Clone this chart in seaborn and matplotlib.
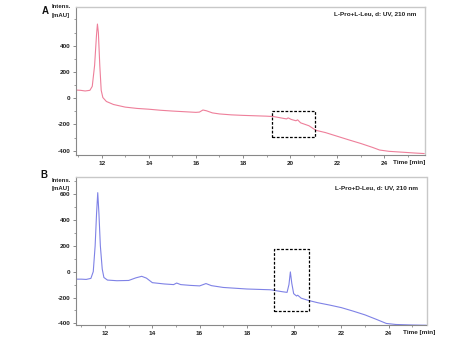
import matplotlib
matplotlib.use("Agg")
import matplotlib.pyplot as plt
from matplotlib.patches import Rectangle
from matplotlib.ticker import MultipleLocator
import pandas as pd
import seaborn as sns

# Chromatogram A: L-Pro + L-Leu (UV 210 nm)
time_a = [10.9, 11.1, 11.3, 11.5, 11.6, 11.7, 11.78, 11.82, 11.86, 11.92, 11.98,
          12.05, 12.2, 12.5, 13.0, 13.5, 14.0, 14.5, 15.0, 15.5, 16.0, 16.15,
          16.3, 16.45, 16.7, 17.0, 17.5, 18.0, 18.5, 19.0, 19.3, 19.6, 19.85,
          19.92, 20.05, 20.25, 20.32, 20.45, 20.8, 21.1, 21.5, 22.0, 22.5,
          23.0, 23.5, 23.8, 24.2, 24.8, 25.3, 25.7]
intens_a = [62, 60, 55, 60, 90, 250, 480, 565, 500, 250, 60,
            5, -25, -48, -68, -78, -84, -92, -98, -103, -108, -106,
            -90, -96, -112, -120, -127, -131, -134, -137, -140, -150, -158,
            -150, -162, -172, -165, -188, -210, -245, -262, -290, -318,
            -345, -375, -395, -405, -412, -418, -422]

# Chromatogram B: L-Pro + D-Leu (UV 210 nm)
time_b = [10.8, 11.0, 11.2, 11.4, 11.5, 11.58, 11.64, 11.69, 11.74, 11.8, 11.88,
          11.95, 12.1, 12.5, 13.0, 13.3, 13.55, 13.75, 14.0, 14.5, 14.9, 15.03,
          15.2, 15.6, 16.0, 16.27, 16.5, 17.0, 17.5, 18.0, 18.5, 19.0, 19.5,
          19.7, 19.78, 19.84, 19.9, 19.98, 20.1, 20.15, 20.3, 20.6, 21.0, 21.5,
          22.0, 22.5, 23.0, 23.5, 23.9, 24.3, 25.0, 25.6]
intens_b = [-58, -58, -60, -52, 0, 200, 450, 610, 450, 200, 20,
            -45, -65, -70, -68, -48, -36, -50, -85, -95, -100, -88,
            -100, -106, -110, -92, -108, -122, -128, -134, -137, -140, -155,
            -160, -100, -2, -90, -170, -188, -182, -205, -222, -240, -258,
            -278, -305, -334, -370, -400, -408, -412, -414]

titles = ["L-Pro+L-Leu, d: UV, 210 nm", "L-Pro+D-Leu, d: UV, 210 nm"]
panel_letters = ["A", "B"]
x_ticks = [12, 14, 16, 18, 20, 22, 24]
y_ticks_a = [-400, -200, 0, 200, 400]
y_ticks_b = [-400, -200, 0, 200, 400, 600]
# highlighted regions: (t_start, t_end, y_low, y_high)
box_a = (19.25, 21.07, -292, -95)
box_b = (19.16, 20.64, -301, 175)

sns.set_theme(style="white")
plt.rcParams["font.family"] = ["Liberation Sans", "DejaVu Sans"]
plt.rcParams["axes.unicode_minus"] = False

fig = plt.figure(figsize=(4.74, 3.45), dpi=100)
W, H = 474, 345


def px_axes(left, top, right, bottom):
    return fig.add_axes([left / W, 1 - bottom / H, (right - left) / W, (bottom - top) / H])


ax_a = px_axes(76, 7, 425, 155)
ax_b = px_axes(76, 177, 426.5, 325)

panels = [
    (ax_a, time_a, intens_a, "#ee7f9a", (10.91, 25.73), (-433, 695), y_ticks_a, box_a),
    (ax_b, time_b, intens_b, "#7f82e6", (10.77, 25.6), (-412, 731), y_ticks_b, box_b),
]

for i, (ax, t, v, col, xl, yl, yt, box) in enumerate(panels):
    df = pd.DataFrame({"Time": t, "Intensity": v})
    sns.lineplot(data=df, x="Time", y="Intensity", ax=ax, color=col,
                 linewidth=0.8, sort=False, estimator=None)
    ax.set_xlim(*xl)
    ax.set_ylim(*yl)
    ax.set_xlabel("")
    ax.set_ylabel("")
    ax.set_xticks(x_ticks)
    ax.set_xticklabels([str(x) for x in x_ticks])
    ax.set_yticks(yt)
    ax.set_yticklabels([str(y) for y in yt])
    ax.xaxis.set_minor_locator(MultipleLocator(1))
    ax.yaxis.set_minor_locator(MultipleLocator(100))
    ax.tick_params(axis="both", which="major", direction="out", length=2.5,
                   width=0.6, color="#777777", labelsize=4.6, pad=1.5,
                   bottom=True, left=True)
    ax.tick_params(axis="both", which="minor", direction="out", length=1.5,
                   width=0.5, color="#777777", bottom=True, left=True)
    for lab in ax.get_xticklabels() + ax.get_yticklabels():
        lab.set_fontweight("bold")
        lab.set_color("#222222")
    for side in ("left", "bottom"):
        ax.spines[side].set_color("#888888")
        ax.spines[side].set_linewidth(0.8)
    for side in ("top", "right"):
        ax.spines[side].set_color("#c8c8c8")
        ax.spines[side].set_linewidth(1.0)

    x0, x1, y0, y1 = box
    ax.add_patch(Rectangle((x0, y0), x1 - x0, y1 - y0, fill=False,
                           edgecolor="black", linewidth=0.9,
                           linestyle=(0, (2.2, 1.3)), zorder=5))

    ax.text(0.975, 0.955 if i == 0 else 0.93, titles[i], transform=ax.transAxes,
            ha="right", va="center", fontsize=4.6, fontweight="bold",
            color="#222222")
    ax.annotate("Time [min]", xy=(24, 0), xycoords=("data", "axes fraction"),
                xytext=(6 if i == 0 else 10, -5.5), textcoords="offset points",
                ha="left", va="center", fontsize=4.6, fontweight="bold",
                color="#222222")

# panel letters and intensity units
fig.text(42 / W, 1 - 11 / H, panel_letters[0], ha="left", va="center", fontsize=7,
         fontweight="bold", color="#111111")
fig.text(40 / W, 1 - 175.5 / H, panel_letters[1], ha="left", va="center", fontsize=7,
         fontweight="bold", color="#111111")
for top_px in (7, 180.5):
    fig.text(52 / W, 1 - top_px / H, "Intens.", ha="left", va="center",
             fontsize=4.3, fontweight="bold", color="#222222")
    fig.text(52 / W, 1 - (top_px + 8) / H, "[mAU]", ha="left", va="center",
             fontsize=4.3, fontweight="bold", color="#222222")

fig.savefig("out.png", dpi=100)
